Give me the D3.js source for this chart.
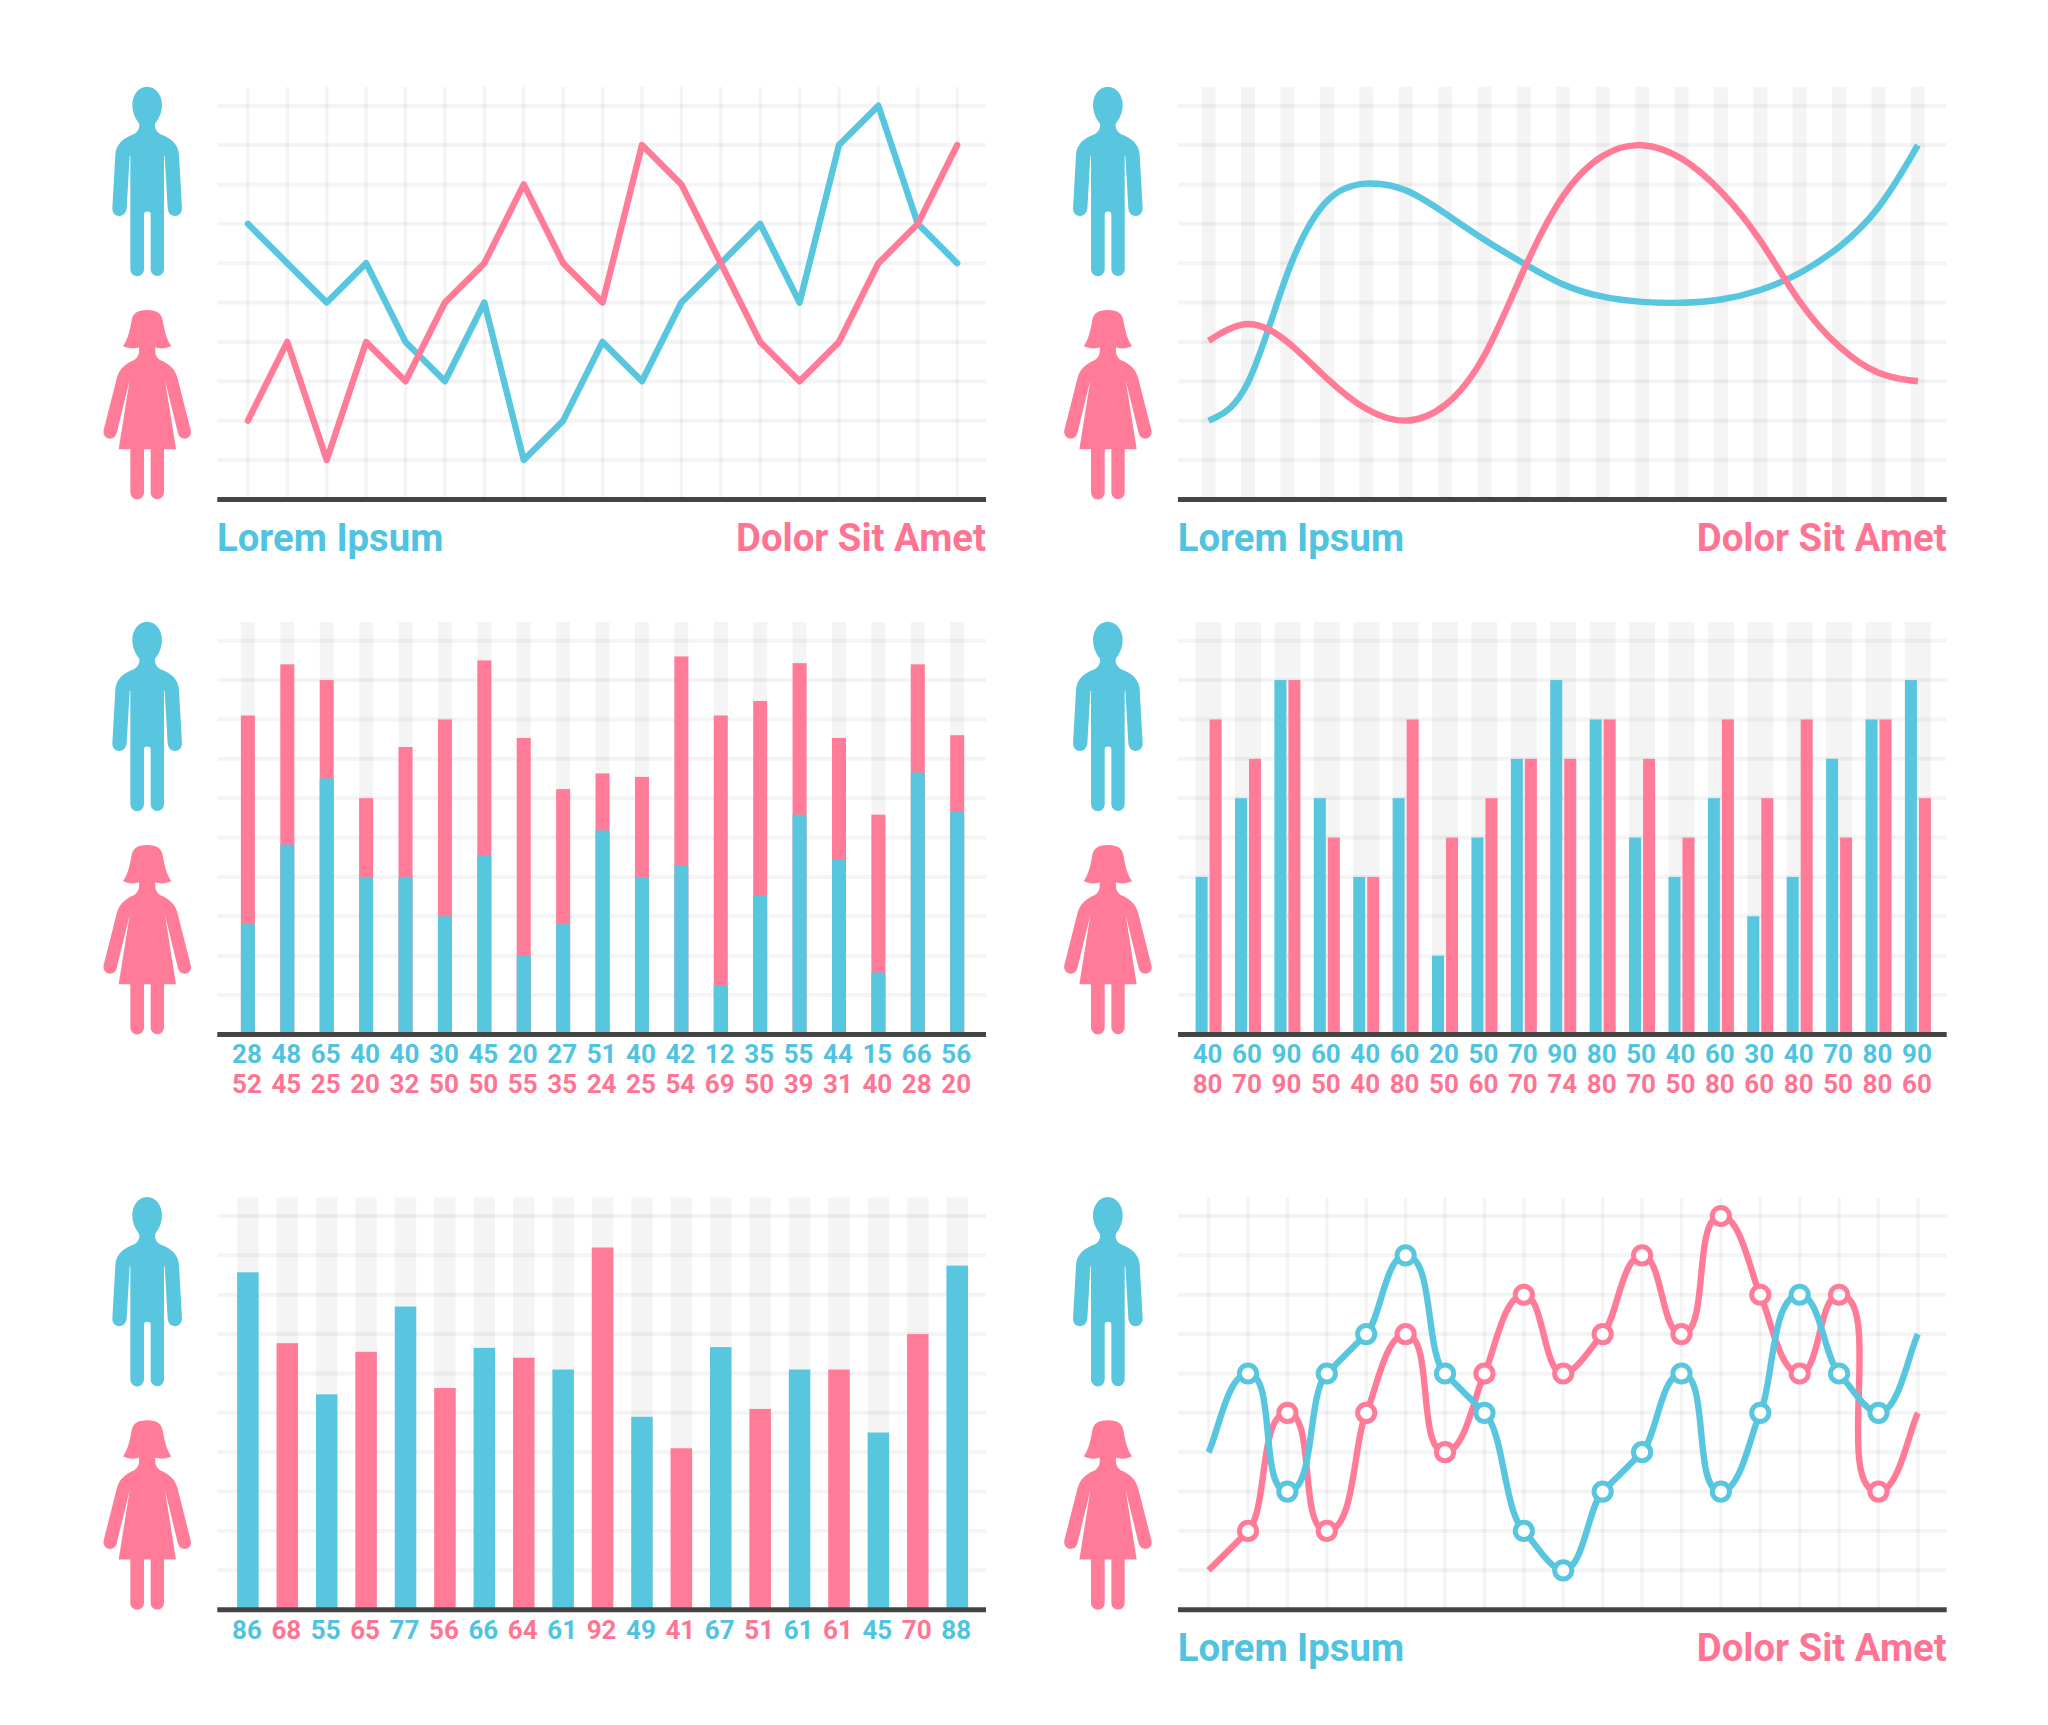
<!DOCTYPE html>
<html><head><meta charset="utf-8">
<script src="https://cdn.jsdelivr.net/npm/d3@7"></script>
<style>html,body{margin:0;background:#fff}svg{display:block}text{font-family:Roboto,sans-serif;font-weight:700}</style>
</head><body><svg id="c" width="2048" height="1725"></svg>
<script>
const BLUE="#58c6de", PINK="#ff7b98", TBLUE="#4fc3df", TPINK="#ff7493";
const legendLeft="Lorem Ipsum", legendRight="Dolor Sit Amet";
const ticks=[10,20,30,40,50,60,70,80,90,100];

const lineBlue=[70,60,50,60,40,30,50,10,20,40,30,50,60,70,50,90,100,70,60];
const linePink=[20,40,10,40,30,50,60,80,60,50,90,80,60,40,30,40,60,70,90];
const smoothBlue=[20,24.5,60.4,78.3,80.9,79.4,72.7,65.8,59.9,54.1,51.2,50,49.8,50.5,52.9,57.1,63.7,72.9,90];
const smoothPink=[40.3,46.6,40.7,30.4,22.2,18.8,22.6,34.5,59.1,78.8,88.4,91,87.4,78.8,66.6,49.2,38.2,31.2,30];
const stackBlueLabels=[28,48,65,40,40,30,45,20,27,51,40,42,12,35,55,44,15,66,56];
const stackPinkLabels=[52,45,25,20,32,50,50,55,35,24,25,54,69,50,39,31,40,28,20];
const stackBlueBars=[28,48.2,65,40,40,30,45.5,20,28,51.8,40,42.8,12.3,35.2,55.8,44.5,15.7,66.5,56.5];
const stackTotalBars=[81,94,90,60,73,80,95,75.3,62.3,66.3,65.4,96,81,84.7,94.3,75.3,55.8,94,76];
const groupBlue=[40,60,90,60,40,60,20,50,70,90,80,50,40,60,30,40,70,80,90];
const groupPink=[80,70,90,50,40,80,50,60,70,70,80,70,50,80,60,80,50,80,60];
const groupPinkLabels=[80,70,90,50,40,80,50,60,70,74,80,70,50,80,60,80,50,80,60];
const singleLabels=[86,68,55,65,77,56,66,64,61,92,49,41,67,51,61,61,45,70,88];
const singleBars=[85.7,67.7,54.7,65.5,77,56.3,66.5,64,61,92,49,41,66.7,51,61,61,45,70,87.4];
const dotBlue=[40,60,30,60,70,90,60,50,20,10,30,40,60,30,50,80,60,50,70];
const dotPink=[10,20,50,20,50,70,40,60,80,60,70,90,70,100,80,60,80,30,50];

const svg=d3.select("#c");
const idx=d3.range(19);
const x=d3.scaleLinear().domain([0,18]).range([247.9,957.2]);
const y=d3.scaleLinear().domain([0,100]).range([499.4,105.7]);
const X0=217.3,X1=986,TOP=87;
const COLX=960.7, ROWY=[0,535,1110.3];

const manPath="M201,50C228,50 246,75 246,105C246,130 235,148 226,160C222,172 228,185 240,192C270,202 296,222 297,255L306,415C306,430 296,438 285,438C272,438 264,428 263,415L254,258L252,258L252,598A20,20 0 0 1 212,598L212,432C212,422 192,422 192,432L192,598A20,20 0 0 1 151,598L151,258L149,258L140,415C139,428 130,438 118,438C106,438 97,430 97,415L106,255C107,222 133,202 163,192C175,185 181,172 177,160C168,148 157,130 157,105C157,75 175,50 201,50Z";
const womanPath="M201,720C232,720 245,730 249,755C255,790 262,812 274,828C262,835 240,838 226,832C224,850 228,862 240,870C270,882 288,900 294,930L332,1080C336,1095 326,1106 314,1106C304,1106 297,1100 294,1090L255,930L288,1138L252,1138L252,1268A20,20 0 0 1 212,1268L212,1138L192,1138L192,1268A20,20 0 0 1 151,1268L151,1138L116,1138L149,930L110,1090C107,1100 100,1106 90,1106C78,1106 68,1095 71,1080L109,930C115,900 133,882 163,870C175,862 179,850 177,832C163,838 141,835 129,828C141,812 148,790 154,755C158,730 171,720 201,720Z";

// custom d3 curve: flat tangent at local extrema, handle length proportional to the chord
function curveHandles(context){
  let xs=[],ys=[];
  return {
    areaStart(){},areaEnd(){},
    lineStart(){xs=[];ys=[];},
    point(a,b){xs.push(+a);ys.push(+b);},
    lineEnd(){
      const n=xs.length, m=[];
      for(let i=0;i<n;i++){
        if(i===0) m[i]=(ys[1]-ys[0])/(xs[1]-xs[0]);
        else if(i===n-1) m[i]=(ys[i]-ys[i-1])/(xs[i]-xs[i-1]);
        else{
          const s0=(ys[i]-ys[i-1])/(xs[i]-xs[i-1]), s1=(ys[i+1]-ys[i])/(xs[i+1]-xs[i]);
          m[i]=s0*s1<=0?0:Math.sign(s0)*Math.min(Math.abs(s0),Math.abs(s1));
        }
      }
      context.moveTo(xs[0],ys[0]);
      for(let i=0;i<n-1;i++){
        const L=Math.hypot(xs[i+1]-xs[i],ys[i+1]-ys[i])*0.23;
        const d0=L/Math.hypot(1,m[i]), d1=L/Math.hypot(1,m[i+1]);
        context.bezierCurveTo(xs[i]+d0,ys[i]+m[i]*d0,xs[i+1]-d1,ys[i+1]-m[i+1]*d1,xs[i+1],ys[i+1]);
      }
    }
  };
}

function panel(col,row){
  const g=svg.append("g").attr("transform",`translate(${col*COLX},${ROWY[row]})`);
  const ic=g.append("g").attr("transform","translate(80,70) scale(0.3333)");
  ic.append("path").attr("d",manPath).attr("fill",BLUE);
  ic.append("path").attr("d",womanPath).attr("fill",PINK);
  return g;
}
function hgrid(g){
  g.selectAll(".h").data(ticks).join("line").attr("x1",X0).attr("x2",X1)
   .attr("y1",d=>y(d)).attr("y2",d=>y(d)).attr("stroke","#000").attr("stroke-opacity",.045).attr("stroke-width",4);
}
function vgrid(g){
  g.selectAll(".v").data(idx).join("line").attr("x1",d=>x(d)).attr("x2",d=>x(d))
   .attr("y1",TOP).attr("y2",y(0)).attr("stroke","#000").attr("stroke-opacity",.045).attr("stroke-width",3.4);
}
function bands(g,w){
  g.selectAll(".b").data(idx).join("rect").attr("x",d=>x(d)-w/2).attr("width",w)
   .attr("y",TOP).attr("height",y(0)-TOP).attr("fill","#000").attr("fill-opacity",.045);
}
function axis(g){
  g.append("line").attr("x1",X0).attr("x2",X1).attr("y1",y(0)).attr("y2",y(0)).attr("stroke","#444").attr("stroke-width",5);
}
function legend(g){
  g.append("text").attr("x",X0-0.3).attr("y",551.2).attr("font-size",38.3).attr("fill",TBLUE).text(legendLeft);
  g.append("text").attr("x",X1).attr("y",551.2).attr("font-size",38.3).attr("fill",TPINK).attr("text-anchor","end").text(legendRight);
}
function series(g,vals,color,curve,w,cap){
  const l=d3.line().x((d,i)=>x(i)).y(d=>y(d)).curve(curve);
  g.append("path").attr("d",l(vals)).attr("fill","none").attr("stroke",color).attr("stroke-width",w)
   .attr("stroke-linejoin","round").attr("stroke-linecap",cap);
}
function labels(g,vals,colorFn,dy){
  g.selectAll(null).data(vals).join("text").attr("x",(d,i)=>x(i)-1).attr("y",y(0)+dy)
   .attr("text-anchor","middle").attr("font-size",26).attr("fill",colorFn).text(d=>d);
}
function bars(g,vals,bx,w,color){
  g.selectAll(null).data(vals).join("rect").attr("x",(d,i)=>x(i)+bx).attr("width",w)
   .attr("y",d=>y(d)).attr("height",d=>y(0)-y(d)).attr("fill",color);
}

// top left: straight lines
let g=panel(0,0); hgrid(g); vgrid(g);
series(g,lineBlue,BLUE,d3.curveLinear,6.4,"round");
series(g,linePink,PINK,d3.curveLinear,6.4,"round");
axis(g); legend(g);

// top right: smooth lines
g=panel(1,0); hgrid(g); bands(g,14);
series(g,smoothBlue,BLUE,d3.curveBasis,6.4,"butt");
series(g,smoothPink,PINK,d3.curveBasis,6.4,"butt");
axis(g); legend(g);

// middle left: stacked
g=panel(0,1); hgrid(g); bands(g,14);
bars(g,stackTotalBars,-7,14,PINK);
bars(g,stackBlueBars,-7,14,BLUE);
axis(g);
labels(g,stackBlueLabels,TBLUE,28.7); labels(g,stackPinkLabels,TPINK,59);

// middle right: grouped
g=panel(1,1); hgrid(g); bands(g,26);
bars(g,groupBlue,-13,12,BLUE);
bars(g,groupPink,1,12,PINK);
axis(g);
labels(g,groupBlue,TBLUE,28.7); labels(g,groupPinkLabels,TPINK,59);

// bottom left: alternating bars
g=panel(0,2); hgrid(g); bands(g,21.5);
g.selectAll(null).data(singleBars).join("rect").attr("x",(d,i)=>x(i)-10.75).attr("width",21.5)
 .attr("y",d=>y(d)).attr("height",d=>y(0)-y(d)).attr("fill",(d,i)=>i%2?PINK:BLUE);
axis(g);
labels(g,singleLabels,(d,i)=>i%2?TPINK:TBLUE,29.7);

// bottom right: dotted smooth lines
g=panel(1,2); hgrid(g); vgrid(g);
[[dotPink,PINK],[dotBlue,BLUE]].forEach(([vals,c])=>{
  series(g,vals,c,curveHandles,6.4,"butt");
  g.selectAll(null).data(vals.slice(1,18)).join("circle").attr("cx",(d,i)=>x(i+1)).attr("cy",d=>y(d))
   .attr("r",8.6).attr("fill","#fff").attr("stroke",c).attr("stroke-width",5);
});
axis(g); legend(g);
</script></body></html>
